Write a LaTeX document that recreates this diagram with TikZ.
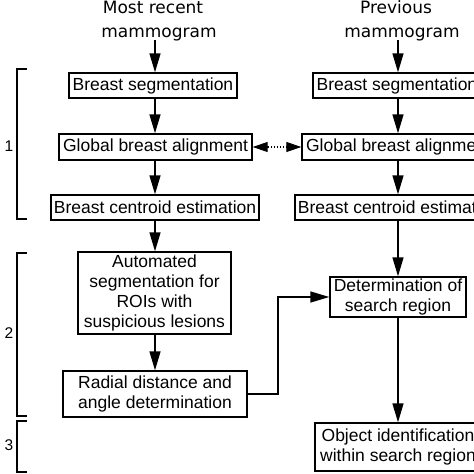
\documentclass[tikz,border=0pt]{standalone}
\usepackage{fontspec}
\setmainfont{Liberation Sans}
\newfontfamily\hdrfont{DejaVu Sans}
\usetikzlibrary{arrows.meta}
\begin{document}
\begin{tikzpicture}[x=1pt,y=-1pt,
  box/.style={draw,line width=1.4pt,rectangle,inner sep=0pt,align=center,
    font=\fontsize{17.5}{20.3}\selectfont},
  arr/.style={line width=1.4pt,-{Triangle[length=19pt,width=11pt]}},
  darr/.style={line width=1.1pt,dotted,{Triangle[length=15pt,width=10pt]}-{Triangle[length=15pt,width=10pt]}},
  brk/.style={line width=1.4pt},
  hdr/.style={font=\hdrfont\fontsize{17}{20}\selectfont,anchor=base,inner sep=0pt},
  lbl/.style={font=\fontsize{15.5}{18}\selectfont,inner sep=0pt}]
\useasboundingbox (0,0) rectangle (474,474);
\clip (0,0) rectangle (474,474);
\fill[white] (0,0) rectangle (474,474);
% headers
\node[hdr] (h1a) at (153,13) {Most recent};
\node[hdr] (h1b) at (159,37) {mammogram};
\node[hdr] (h2a) at (396,13) {Previous};
\node[hdr] (h2b) at (402,37) {mammogram};
\coordinate (hl) at (155,40);
\coordinate (hr) at (398,40);
% left column
\node[box,minimum width=168pt,minimum height=25pt] (bs1) at (153,85.5) {Breast segmentation};
\node[box,minimum width=193pt,minimum height=26pt] (ga1) at (155.5,147) {Global breast alignment};
\node[box,minimum width=208pt,minimum height=25pt] (bc1) at (155,207.5) {Breast centroid estimation};
\node[box,minimum width=153pt,minimum height=82pt] (au) at (154.5,293) {Automated\\segmentation for\\ROIs with\\suspicious lesions};
\node[box,minimum width=184pt,minimum height=46pt] (rd) at (155,394) {Radial distance and\\angle determination};
% right column
\node[box,minimum width=168pt,minimum height=25pt] (bs2) at (397,85.5) {Breast segmentation};
\node[box,minimum width=193pt,minimum height=26pt] (ga2) at (398.5,147) {Global breast alignment};
\node[box,minimum width=208pt,minimum height=25pt] (bc2) at (399,207.5) {Breast centroid estimation};
\node[box,minimum width=136pt,minimum height=40pt] (dt) at (398,297) {Determination of\\search region};
\node[box,minimum width=166pt,minimum height=48pt] (ob) at (398,447) {Object identification\\within search region};
% left arrows
\draw[arr] (hl) -- (bs1.north -| hl);
\draw[arr] (bs1.south -| hl) -- (ga1.north -| hl);
\draw[arr] (ga1.south -| hl) -- (bc1.north -| hl);
\draw[arr] (bc1.south -| hl) -- (au.north -| hl);
\draw[arr] (au.south -| hl) -- (rd.north -| hl);
% right arrows
\draw[arr] (hr) -- (bs2.north -| hr);
\draw[arr] (bs2.south -| hr) -- (ga2.north -| hr);
\draw[arr] (ga2.south -| hr) -- (bc2.north -| hr);
\draw[arr] (bc2.south -| hr) -- (dt.north -| hr);
\draw[arr] (dt.south -| hr) -- (ob.north -| hr);
% cross connectors
\draw[darr] (ga1.east) -- (ga2.west);
\draw[arr] (rd.east) -- (278,394) |- (dt.west);
% brackets
\draw[brk] (27,69) -- (17,69) -- (17,219) -- (27,219);
\draw[brk] (27,253) -- (17,253) -- (17,416) -- (27,416);
\draw[brk] (27,421) -- (17,421) -- (17,472) -- (27,472);
\node[lbl] (l1) at (9,146) {1};
\node[lbl] (l2) at (9,333) {2};
\node[lbl] (l3) at (9,445) {3};
\end{tikzpicture}
\end{document}
